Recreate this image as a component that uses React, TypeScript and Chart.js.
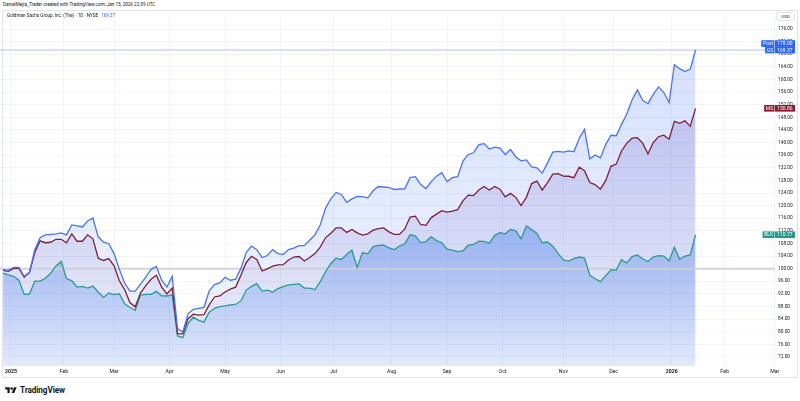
import React, { useEffect, useRef } from "react";
import { Chart, registerables } from "chart.js";

Chart.register(...registerables);

// ---- data (trading-day index: 0 = Jan 2 2025, one sample every 2 trading days) ----
const FIRST_BAR = -3;
const BAR_STEP = 2;

const gsValues = [
  99.69, 99.47, 100.41, 100.41, 97.59, 98.84, 106.04, 109.79, 110.73, 110.89,
  111.04, 111.35, 110.73, 113.86, 113.54, 113.23, 115.11, 116.05, 110.1, 108.38,
  107.91, 104.79, 99.78, 95.4, 92.9, 92.9, 95.09, 97.28, 99.78, 100.72,
  96.34, 94.15, 97.59, 81.01, 79.92, 85.7, 87.11, 87.43, 87.74, 92.9,
  94.93, 95.5, 97.28, 96.34, 96.65, 100.09, 105.1, 107.13, 106.04, 103.53,
  104.16, 106.04, 104.79, 104.47, 106.04, 106.51, 107.29, 107.29, 109.01, 110.73,
  113.86, 119.17, 122.15, 124.18, 123.55, 121.05, 122.15, 122.93, 122.87, 122.46,
  124.71, 126.06, 125.9, 125.74, 125.12, 125.27, 125.34, 128.87, 129.18, 126.68,
  125.43, 127.62, 129.34, 130.43, 127.62, 128.87, 129.18, 134.09, 136.22, 136.75,
  139.35, 139.66, 137.94, 138.57, 138.26, 136.22, 137.79, 135.44, 134.19, 134.5,
  132.31, 132.0, 130.28, 133.56, 136.94, 137.22, 136.94, 137.38, 137.07, 141.38,
  144.2, 134.82, 136.07, 135.13, 139.35, 142.32, 142.17, 145.76, 149.05, 153.58,
  156.71, 153.43, 152.33, 155.3, 157.65, 155.93, 152.64, 164.69, 163.44, 162.5,
  163.28, 169.37,
];

const msValues = [
  99.47, 99.16, 100.09, 100.09, 97.28, 98.84, 105.1, 108.85, 108.23, 108.38,
  109.32, 109.32, 108.23, 111.04, 108.7, 108.7, 110.73, 109.48, 103.32, 102.6,
  103.22, 100.88, 96.18, 93.37, 89.24, 87.89, 92.27, 94.62, 96.65, 97.9,
  94.15, 91.96, 93.84, 79.29, 79.29, 84.14, 85.55, 85.24, 85.39, 88.52,
  91.02, 91.34, 92.59, 93.53, 94.15, 97.9, 101.97, 103.94, 102.91, 99.25,
  99.94, 100.81, 101.19, 101.25, 102.75, 103.69, 103.85, 102.44, 103.53, 104.79,
  106.82, 109.79, 111.2, 112.92, 112.92, 111.51, 112.45, 111.35, 110.64, 111.04,
  112.2, 112.7, 112.92, 111.67, 110.89, 110.89, 112.61, 116.36, 116.67, 114.01,
  113.76, 116.2, 117.3, 118.39, 117.92, 118.24, 118.71, 121.52, 123.33, 123.15,
  124.96, 126.06, 124.96, 126.06, 125.21, 122.77, 123.87, 122.62, 120.02, 122.62,
  126.99, 127.78, 124.96, 127.31, 129.97, 130.12, 129.37, 129.31, 128.87, 132.16,
  131.06, 127.31, 126.68, 125.21, 127.93, 132.47, 133.16, 137.32, 139.82, 141.38,
  141.54, 139.82, 136.47, 139.98, 141.85, 142.32, 141.07, 146.7, 146.08, 146.92,
  145.14, 150.86,
];

const blkValues = [
  98.62, 98.06, 97.59, 96.34, 91.87, 91.96, 96.03, 96.03, 96.97, 98.53,
  100.88, 102.28, 96.87, 96.18, 94.15, 94.37, 93.84, 94.46, 92.59, 90.87,
  92.27, 91.8, 92.05, 88.83, 87.68, 86.8, 91.65, 91.84, 91.87, 92.81,
  91.4, 91.34, 91.65, 78.67, 78.1, 82.58, 84.61, 83.61, 83.05, 86.17,
  87.43, 87.99, 88.21, 88.52, 88.65, 89.77, 93.21, 94.37, 95.25, 92.9,
  93.21, 92.59, 93.68, 94.28, 94.84, 95.0, 95.15, 93.84, 93.84, 93.37,
  95.87, 99.0, 101.66, 103.32, 102.91, 104.47, 105.85, 100.41, 105.1, 104.72,
  106.98, 107.41, 107.44, 106.6, 106.04, 107.19, 107.91, 110.73, 110.42, 108.29,
  108.6, 110.1, 108.91, 108.23, 106.19, 105.88, 105.41, 105.63, 107.44, 107.69,
  108.76, 108.63, 108.07, 110.57, 111.45, 111.04, 112.45, 111.98, 109.48, 113.54,
  112.45, 111.14, 108.23, 108.45, 107.13, 104.88, 102.75, 102.38, 103.16, 103.69,
  103.38, 97.97, 96.81, 95.87, 97.75, 99.62, 99.56, 102.82, 101.81, 103.85,
  104.32, 103.16, 102.25, 103.69, 104.16, 104.0, 102.5, 106.82, 102.97, 104.0,
  104.38, 110.77,
];

const monthTickBars = [0, 20, 39, 60, 81, 102, 122, 144, 165, 186, 209, 228, 250, 270, 289];
const monthTickLabels = ["2025", "Feb", "Mar", "Apr", "May", "Jun", "Jul", "Aug", "Sep", "Oct", "Nov", "Dec", "2026", "Feb", "Mar"];
const yearLabels = ["2025", "2026"];

const priceTicks = [72, 76, 80, 84, 88, 92, 96, 100, 104, 108, 112, 116, 120, 124, 128, 132, 136, 140, 144, 148, 152, 156, 160, 164, 168, 172, 176];

const seriesNames = ["GS", "MS", "BLK"];
const seriesLast = [169.37, 150.86, 110.77];
const POST_LABEL = "Post";
const POST_VALUE = 178.0;
const BASE_VALUE = 100;

// ---- view settings ----
const X_MIN = -4.16;
const X_MAX = 289.07;
const Y_MIN = 69.13;
const Y_MAX = 179.86;

const LINE_COLORS = ["#4674F5", "#7E2138", "#2A9B8E"];
const BADGE_COLORS = ["#2962FF", "#8A1A30", "#1F9C88"];
const FILL_RGB: [number, number, number][] = [
  [41, 98, 255],
  [105, 75, 169],
  [45, 125, 240],
];
const FILL_ALPHA: [number, number][] = [
  [0.2, 0.05],
  [0.22, 0.04],
  [0.38, 0.06],
];

const FONT = "Roboto, 'Noto Sans', sans-serif";

function areaGradient(idx: number, values: number[]) {
  return (c: any) => {
    const chart = c.chart;
    const { chartArea, scales } = chart;
    const [r, g, b] = FILL_RGB[idx];
    const [a0, a1] = FILL_ALPHA[idx];
    if (!chartArea || !scales.y) return `rgba(${r},${g},${b},${a0})`;
    const top = scales.y.getPixelForValue(Math.max(...values));
    const grad = chart.ctx.createLinearGradient(0, top, 0, chartArea.bottom);
    grad.addColorStop(0, `rgba(${r},${g},${b},${a0})`);
    grad.addColorStop(1, `rgba(${r},${g},${b},${a1})`);
    return grad;
  };
}

function drawBadge(ctx: CanvasRenderingContext2D, right: number, yc: number, name: string, valueText: string, bg: string) {
  const h = 6.6;
  ctx.font = `5px ${FONT}`;
  const nameW = ctx.measureText(name).width + 3.5;
  const valW = 20;
  ctx.fillStyle = bg;
  ctx.fillRect(right - nameW, yc - h / 2, nameW - 0.6, h);
  ctx.fillRect(right, yc - h / 2, valW, h);
  ctx.fillStyle = "#ffffff";
  ctx.textBaseline = "middle";
  ctx.textAlign = "left";
  ctx.fillText(name, right - nameW + 1.6, yc + 0.3);
  ctx.fillText(valueText, right + 2.2, yc + 0.3);
}

const overlayPlugin = {
  id: "overlay",
  beforeDatasetsDraw(chart: any) {
    const { ctx, chartArea, scales } = chart;
    const y = scales.y;
    ctx.save();
    // base line at 100
    const py = y.getPixelForValue(BASE_VALUE);
    ctx.strokeStyle = "rgba(205,208,214,0.9)";
    ctx.lineWidth = 2;
    ctx.beginPath();
    ctx.moveTo(chartArea.left, py);
    ctx.lineTo(chartArea.right, py);
    ctx.stroke();
    // GS last price line
    const pg = y.getPixelForValue(seriesLast[0]);
    ctx.strokeStyle = "rgba(41,98,255,0.2)";
    ctx.lineWidth = 2;
    ctx.beginPath();
    ctx.moveTo(chartArea.left, pg);
    ctx.lineTo(chartArea.right, pg);
    ctx.stroke();
    ctx.restore();
  },
  afterDraw(chart: any) {
    const { ctx, chartArea, scales } = chart;
    const y = scales.y;
    ctx.save();
    const right = chartArea.right;
    const gsY = y.getPixelForValue(seriesLast[0]);
    drawBadge(ctx, right, gsY - 6.4, POST_LABEL, POST_VALUE.toFixed(2), BADGE_COLORS[0]);
    seriesNames.forEach((name, i) => {
      drawBadge(ctx, right, y.getPixelForValue(seriesLast[i]), name, seriesLast[i].toFixed(2), BADGE_COLORS[i]);
    });
    ctx.restore();
  },
};

export default function App() {
  const canvasRef = useRef<HTMLCanvasElement | null>(null);

  useEffect(() => {
    document.body.style.margin = "0";
    const canvas = canvasRef.current;
    if (!canvas) return;
    const series = [gsValues, msValues, blkValues];
    const datasets = series.map((vals, i) => ({
      label: seriesNames[i],
      data: vals.map((v, k) => ({ x: FIRST_BAR + k * BAR_STEP, y: v })),
      borderColor: LINE_COLORS[i],
      borderWidth: 1.3,
      pointRadius: 0,
      tension: 0,
      fill: "start",
      backgroundColor: areaGradient(i, vals),
    }));

    const chart = new Chart(canvas, {
      type: "line",
      data: { datasets },
      options: {
        animation: false,
        responsive: false,
        devicePixelRatio: 1,
        layout: { padding: { top: 1, left: 0, right: 0, bottom: 0 } },
        plugins: {
          legend: { display: false },
          tooltip: { enabled: false },
          filler: { drawTime: "beforeDatasetsDraw" },
        } as any,
        scales: {
          x: {
            type: "linear",
            min: X_MIN,
            max: X_MAX,
            afterBuildTicks: (s: any) => {
              s.ticks = monthTickBars.map((v) => ({ value: v }));
            },
            afterFit: (s: any) => {
              s.height = 11;
            },
            grid: { color: "#F0F3FA", drawTicks: false, lineWidth: 1 },
            border: { display: false },
            ticks: {
              autoSkip: false,
              maxRotation: 0,
              padding: 3,
              color: "#131722",
              font: (c: any) => {
                const idx = c.tick ? monthTickBars.indexOf(c.tick.value) : -1;
                const lbl = idx >= 0 ? monthTickLabels[idx] : "";
                return { family: FONT, size: 5.2, weight: yearLabels.includes(lbl) ? "bold" : "normal" };
              },
              callback: (v: any) => {
                const idx = monthTickBars.indexOf(Number(v));
                return idx >= 0 ? monthTickLabels[idx] : "";
              },
            },
          },
          y: {
            type: "linear",
            position: "right",
            min: Y_MIN,
            max: Y_MAX,
            afterBuildTicks: (s: any) => {
              s.ticks = priceTicks.map((v) => ({ value: v }));
            },
            afterFit: (s: any) => {
              s.width = 22;
            },
            grid: { color: "#F0F3FA", drawTicks: false, lineWidth: 1 },
            border: { display: false },
            ticks: {
              padding: 3,
              color: "#131722",
              font: { family: FONT, size: 4.8 },
              callback: (v: any) => Number(v).toFixed(2),
            },
          },
        },
      },
      plugins: [overlayPlugin],
    } as any);

    return () => {
      chart.destroy();
    };
  }, []);

  return (
    <div
      style={{
        position: "fixed",
        left: 0,
        top: 0,
        width: 800,
        height: 401,
        background: "#ffffff",
        fontFamily: FONT,
        overflow: "hidden",
        color: "#131722",
      }}
    >
      <div style={{ position: "absolute", left: 3, top: 2, fontSize: 4.6, lineHeight: "6px", whiteSpace: "nowrap" }}>
        DanielMejia_Trader created with TradingView.com, Jan 15, 2026 22:39 UTC
      </div>
      <div
        style={{
          position: "absolute",
          left: 2,
          top: 10,
          width: 796,
          height: 368,
          border: "1px solid #E0E3EB",
          boxSizing: "border-box",
        }}
      />
      <canvas
        ref={canvasRef}
        width={797}
        height={366}
        style={{ position: "absolute", left: 0, top: 11, width: 797, height: 366, display: "block" }}
      />
      <div style={{ position: "absolute", left: 7, top: 13, fontSize: 4.6, lineHeight: "6px", whiteSpace: "nowrap" }}>
        Goldman Sachs Group, Inc. (The) · 1D · NYSE{" "}
        <span style={{ color: "#2962FF", marginLeft: 2 }}>169.37</span>
      </div>
      <div
        style={{
          position: "absolute",
          left: 776,
          top: 12,
          width: 19,
          height: 9,
          border: "1px solid #E0E3EB",
          borderRadius: 2,
          boxSizing: "border-box",
          background: "#fff",
          fontSize: 4.4,
          lineHeight: "7px",
          textAlign: "center",
        }}
      >
        USD
      </div>
      <div style={{ position: "absolute", left: 5, top: 385, display: "flex", alignItems: "center" }}>
        <svg width="12" height="9" viewBox="0 0 36 28">
          <path d="M14 22H7V11H0V4h14v18z" fill="#131722" />
          <circle cx="20" cy="8" r="4" fill="#131722" />
          <path d="M28 22h-8l7.5-18h8L28 22z" fill="#131722" />
        </svg>
        <span style={{ marginLeft: 3, fontSize: 8.2, fontWeight: 700, lineHeight: "10px", letterSpacing: -0.1 }}>
          TradingView
        </span>
      </div>
    </div>
  );
}
